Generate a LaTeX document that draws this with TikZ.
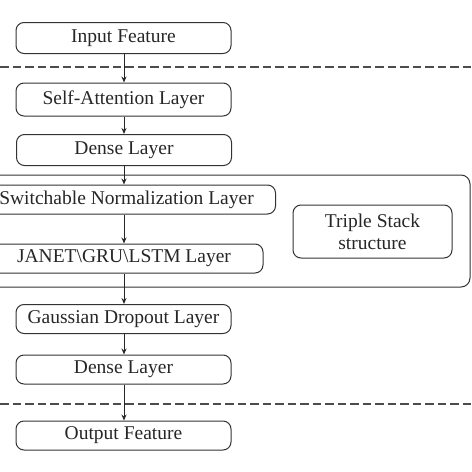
\documentclass[tikz,border=0pt]{standalone}
\usepackage{fontspec}
\setmainfont{Liberation Serif}
\usepackage{tikz}
\usetikzlibrary{positioning,arrows.meta}

\begin{document}
\begin{tikzpicture}[
  x=1pt, y=-1pt,
  layer/.style={draw=black!80, line width=1pt, rounded corners=8pt, minimum width=215pt,
    minimum height=31pt, inner sep=0pt, font=\fontsize{19.5}{22}\selectfont, text=black!85},
  wide/.style={layer, minimum height=29pt},
  stackbox/.style={layer, minimum width=159pt, minimum height=53pt, align=center},
  flow/.style={draw=black!85, line width=1pt, -{Stealth[length=6pt, width=5pt]}},
  sep/.style={draw=black!70, line width=1.1pt, dash pattern=on 8.5pt off 4pt}
]
\useasboundingbox (0,0) rectangle (472,472);
\clip (0,0) rectangle (472,472);

% ==================== input ====================
\node[layer] (input) at (123.5,38) {Input Feature};
\draw[sep] (0,67) -- (472,67);

% ==================== encoder ====================
\node[layer, minimum height=33pt] (attn) at (123.5,99.5) {Self-Attention Layer};
\node[layer] (dense1) at (124,150) {Dense Layer};

% triple stack block
\draw[draw=black!80, line width=1pt, rounded corners=9pt] (-30,175) rectangle (470,287);
\node[wide, minimum width=298pt] (norm) at (126.5,199.5) {Switchable Normalization Layer};
\node[wide, minimum width=278pt] (rnn) at (124,258.5) {JANET\textbackslash GRU\textbackslash LSTM Layer};
\node[stackbox] (stack) at (372.5,231.5) {Triple Stack\\structure};

\node[wide] (drop) at (123.5,319) {Gaussian Dropout Layer};
\node[wide] (dense2) at (123.5,369.5) {Dense Layer};

% ==================== output ====================
\draw[sep] (0,404) -- (472,404);
\node[wide] (output) at (123.5,435.5) {Output Feature};

% arrows
\draw[flow] (input.south -| 124,0) -- (attn.north -| 124,0);
\draw[flow] (attn.south -| 124,0) -- (dense1.north -| 124,0);
\draw[flow] (dense1.south -| 124,0) -- (norm.north -| 124,0);
\draw[flow] (norm.south -| 124,0) -- (rnn.north -| 124,0);
\draw[flow] (rnn.south -| 124,0) -- (drop.north -| 124,0);
\draw[flow] (drop.south -| 124,0) -- (dense2.north -| 124,0);
\draw[flow] (dense2.south -| 124,0) -- (output.north -| 124,0);
\end{tikzpicture}
\end{document}
